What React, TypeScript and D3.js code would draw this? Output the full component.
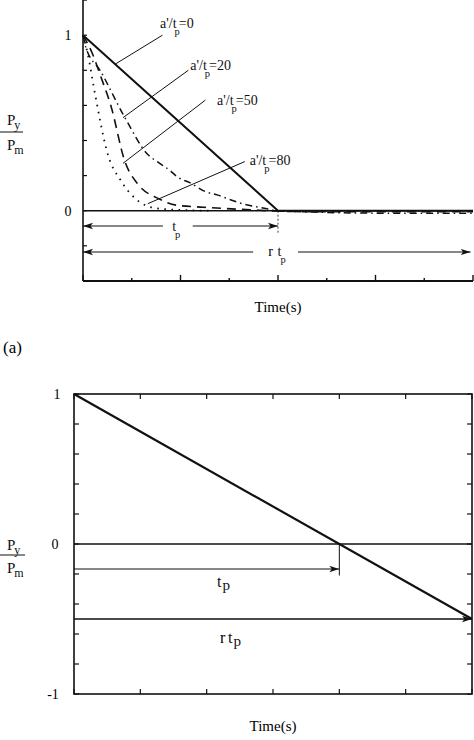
import * as d3 from 'd3';

// ---- panel (a) data: time in units (t_p = 4), response Py/Pm
const curveZeroT = [0, 4, 8];
const curveZeroV = [1, 0, 0];

const curve20T = [0, 0.06, 0.35, 0.86, 1.33, 1.52, 1.78, 1.95, 2.19, 2.5, 2.75, 3.22, 3.69, 4.0, 5, 6, 7, 8];
const curve20V = [1, 0.93, 0.8, 0.53, 0.32, 0.28, 0.23, 0.19, 0.16, 0.11, 0.09, 0.044, 0.015, 0.0, -0.01, -0.014, -0.015, -0.015];

const curve50T = [0, 0.2, 0.37, 0.57, 0.86, 1.13, 1.54, 1.95, 2.46, 3.43, 4.2, 5, 6, 7, 8];
const curve50V = [1, 0.89, 0.76, 0.6, 0.28, 0.15, 0.07, 0.03, 0.02, 0.005, -0.004, -0.006, -0.006, -0.006, -0.006];

const curve80T = [0, 0.1, 0.25, 0.51, 0.78, 1.07, 1.48, 2.0, 2.6];
const curve80V = [1, 0.89, 0.66, 0.32, 0.17, 0.07, 0.015, 0.004, 0];

const labelsA = ['0', '20', '50', '80'];
// leader start (on curve) and label anchor, in data units
const leaderFromT = [0.66, 0.82, 0.82, 1.33];
const leaderFromV = [0.835, 0.53, 0.27, 0.04];
const leaderToT = [1.63, 2.16, 2.51, 3.32];
const leaderToV = [1.0, 0.8, 0.63, 0.28];
const labelT = [1.58, 2.2, 2.75, 3.42];
const labelV = [1.04, 0.8, 0.6, 0.26];

const topYTicks = [-0.4, -0.2, 0, 0.2, 0.4, 0.6, 0.8, 1.0, 1.2];
const topXTicks = [0, 1, 2, 3, 4, 5, 6, 7, 8];

// ---- panel (b) data: t_p = 4, r t_p = 6
const lineBT = [0, 6];
const lineBV = [1, -0.5];
const botXTicks = [0, 1, 2, 3, 4, 5, 6];
const botYTicks = [-1, -0.8, -0.6, -0.4, -0.2, 0, 0.2, 0.4, 0.6, 0.8, 1];

const FONT = '"Liberation Serif", "DejaVu Serif", serif';

function Sub({ base, sub, after, x, y, size = 14, subDy = 0.5, subDx = -1, afterDx = -1, subScale = 0.75 }: any) {
  return (
    <text x={x} y={y} fontFamily={FONT} fontSize={size} fill="#111">
      {base}
      <tspan dx={subDx} dy={size * subDy} fontSize={size * subScale}>{sub}</tspan>
      {after ? <tspan dx={afterDx} dy={-size * subDy}>{after}</tspan> : null}
    </text>
  );
}

export default function App() {
  const xA = d3.scaleLinear().domain([0, 8]).range([83, 473]);
  const yA = d3.scaleLinear().domain([0, 1]).range([210.7, 35.2]);
  const xB = d3.scaleLinear().domain([0, 6]).range([74, 472]);
  const yB = d3.scaleLinear().domain([-1, 1]).range([694, 394]);

  const lineA = (ts: number[], vs: number[], smooth = true) =>
    d3
      .line<number>()
      .x((_, i) => xA(ts[i]))
      .y((_, i) => yA(vs[i]))
      .curve(smooth ? d3.curveMonotoneX : d3.curveLinear)(ts.map((t) => t)) || '';

  const ink = '#111';

  return (
    <svg
      width={474}
      height={740}
      style={{ position: 'absolute', left: 0, top: 0, background: '#fff' }}
    >
      <defs>
        <marker id="ah" viewBox="0 0 10 8" refX="10" refY="4" markerWidth="10" markerHeight="8" markerUnits="userSpaceOnUse" orient="auto-start-reverse">
          <path d="M0,0.8 L10,4 L0,7.2 L2.5,4 Z" fill={ink} />
        </marker>
      </defs>

      {/* ===== Panel (a) ===== */}
      <g>
        {/* axes */}
        <line x1={xA(0)} x2={xA(0)} y1={0} y2={yA(-0.4)} stroke={ink} strokeWidth={1.6} />
        <line x1={xA(0)} x2={xA(8)} y1={yA(-0.4)} y2={yA(-0.4)} stroke={ink} strokeWidth={2} />
        {topYTicks.map((v) => (
          <line key={'ya' + v} x1={xA(0)} x2={xA(0) + 4} y1={yA(v)} y2={yA(v)} stroke={ink} strokeWidth={1.2} />
        ))}
        {topXTicks.map((t) => (
          <line key={'xa' + t} x1={xA(t)} x2={xA(t)} y1={yA(-0.4)} y2={yA(-0.4) - (t % 2 === 0 ? 6 : 3)} stroke={ink} strokeWidth={1.4} />
        ))}
        <text x={xA(0) - 15} y={yA(1) + 5} fontFamily={FONT} fontSize={14} textAnchor="middle">1</text>
        <text x={xA(0) - 15} y={yA(0) + 5} fontFamily={FONT} fontSize={14} textAnchor="middle">0</text>

        {/* zero line */}
        <line x1={xA(0)} x2={xA(8)} y1={yA(0)} y2={yA(0)} stroke={ink} strokeWidth={1.6} />

        {/* curves */}
        <path d={lineA(curveZeroT, curveZeroV, false)} fill="none" stroke={ink} strokeWidth={2} />
        <path d={lineA(curve20T, curve20V)} fill="none" stroke={ink} strokeWidth={1.5} strokeDasharray="7 4 1.5 4" />
        <path d={lineA(curve50T, curve50V)} fill="none" stroke={ink} strokeWidth={1.6} strokeDasharray="9 6" />
        <path d={lineA(curve80T, curve80V)} fill="none" stroke={ink} strokeWidth={1.8} strokeDasharray="1.6 5.5" />

        {/* leaders and labels */}
        {labelsA.map((lab, i) => (
          <g key={'lab' + lab}>
            <line x1={xA(leaderFromT[i])} y1={yA(leaderFromV[i])} x2={xA(leaderToT[i])} y2={yA(leaderToV[i])} stroke={ink} strokeWidth={1} />
            <Sub x={xA(labelT[i])} y={yA(labelV[i])} base="a'/t" sub="p" after={'=' + lab} size={14} subDx={-2} afterDx={-1} />
          </g>
        ))}

        {/* t_p arrow */}
        <line x1={xA(0)} x2={xA(1.64)} y1={226} y2={226} stroke={ink} strokeWidth={1.2} markerStart="url(#ah)" />
        <line x1={xA(2.25)} x2={xA(4)} y1={226} y2={226} stroke={ink} strokeWidth={1.2} markerEnd="url(#ah)" />
        <line x1={xA(4)} x2={xA(4)} y1={yA(0)} y2={233} stroke={ink} strokeWidth={0.8} strokeDasharray="2 2" />
        <Sub x={xA(1.83)} y={231} base="t" sub="p" size={14} />

        {/* r t_p arrow */}
        <line x1={xA(0)} x2={xA(3.49)} y1={252} y2={252} stroke={ink} strokeWidth={1.2} markerStart="url(#ah)" />
        <line x1={xA(4.41)} x2={xA(7.95)} y1={252} y2={252} stroke={ink} strokeWidth={1.2} markerEnd="url(#ah)" />
        <text x={xA(3.8)} y={256} fontFamily={FONT} fontSize={14}>r</text>
        <Sub x={xA(3.99)} y={256} base="t" sub="p" size={14} />

        {/* y label */}
        <Sub x={7} y={125} base="P" sub="y" size={15} subDy={0.25} subScale={0.8} />
        <line x1={0} x2={23} y1={132} y2={132} stroke={ink} strokeWidth={1} />
        <Sub x={7} y={150} base="P" sub="m" size={15} subDy={0.25} subScale={0.8} />

        <text x={xA(4)} y={312} fontFamily={FONT} fontSize={15} textAnchor="middle">Time(s)</text>
      </g>

      <text x={3} y={353} fontFamily={FONT} fontSize={17}>(a)</text>

      {/* ===== Panel (b) ===== */}
      <g>
        <rect x={xB(0)} y={yB(1)} width={xB(6) - xB(0)} height={yB(-1) - yB(1)} fill="none" stroke={ink} strokeWidth={1.6} />
        {botXTicks.map((t) => (
          <g key={'xb' + t}>
            <line x1={xB(t)} x2={xB(t)} y1={yB(-1)} y2={yB(-1) - 5} stroke={ink} strokeWidth={1.2} />
            <line x1={xB(t)} x2={xB(t)} y1={yB(1)} y2={yB(1) + 5} stroke={ink} strokeWidth={1.2} />
          </g>
        ))}
        {botYTicks.map((v) => (
          <g key={'yb' + v}>
            <line x1={xB(0)} x2={xB(0) + 5} y1={yB(v)} y2={yB(v)} stroke={ink} strokeWidth={1.2} />
            <line x1={xB(6)} x2={xB(6) - 5} y1={yB(v)} y2={yB(v)} stroke={ink} strokeWidth={1.2} />
          </g>
        ))}
        <text x={xB(0) - 17} y={yB(1) + 5} fontFamily={FONT} fontSize={14} textAnchor="middle">1</text>
        <text x={xB(0) - 19} y={yB(0) + 5} fontFamily={FONT} fontSize={14} textAnchor="middle">0</text>
        <text x={xB(0) - 21} y={yB(-1) + 5} fontFamily={FONT} fontSize={14} textAnchor="middle">-1</text>

        <line x1={xB(0)} x2={xB(6)} y1={yB(0)} y2={yB(0)} stroke={ink} strokeWidth={1.4} />
        <path
          d={d3.line<number>().x((_, i) => xB(lineBT[i])).y((_, i) => yB(lineBV[i]))(lineBT) || ''}
          fill="none"
          stroke={ink}
          strokeWidth={2.2}
        />

        {/* t_p arrow */}
        <line x1={xB(0)} x2={xB(4)} y1={yB(-1 / 6)} y2={yB(-1 / 6)} stroke={ink} strokeWidth={1.2} markerEnd="url(#ah)" />
        <line x1={xB(4)} x2={xB(4)} y1={yB(0)} y2={yB(-0.21)} stroke={ink} strokeWidth={1} />
        <Sub x={217} y={587} base="t" sub="p" size={16} subDy={0.2} subDx={1} subScale={0.95} />

        {/* r t_p arrow */}
        <line x1={xB(0)} x2={xB(6)} y1={yB(-0.5)} y2={yB(-0.5)} stroke={ink} strokeWidth={1.4} markerEnd="url(#ah)" />
        <text x={220} y={643} fontFamily={FONT} fontSize={16}>r</text>
        <Sub x={228} y={643} base="t" sub="p" size={16} subDy={0.2} subDx={1} subScale={0.95} />

        <Sub x={7} y={550} base="P" sub="y" size={15} subDy={0.25} subScale={0.8} />
        <line x1={0} x2={25} y1={555} y2={555} stroke={ink} strokeWidth={1} />
        <Sub x={7} y={573} base="P" sub="m" size={15} subDy={0.25} subScale={0.8} />

        <text x={xB(3)} y={731} fontFamily={FONT} fontSize={15} textAnchor="middle">Time(s)</text>
      </g>
    </svg>
  );
}
